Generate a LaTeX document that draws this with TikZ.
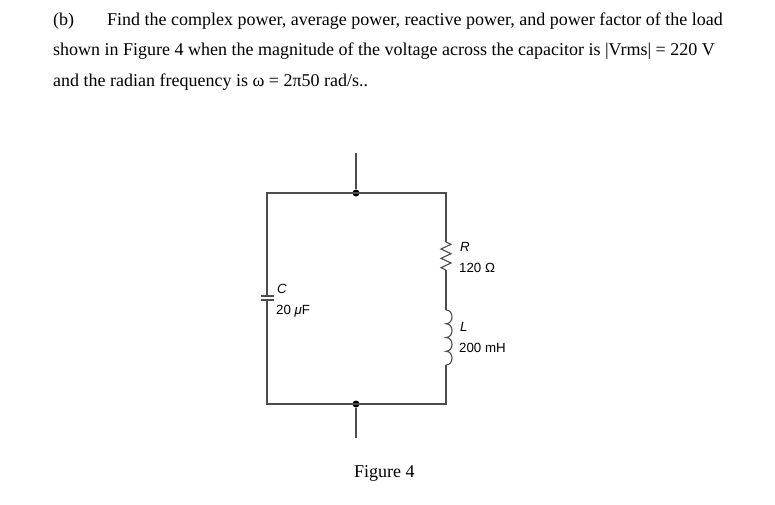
\documentclass[tikz,border=0pt]{standalone}
\usepackage{fontspec}
\setmainfont{Liberation Serif}
\newfontfamily\lblfont{Liberation Sans}
\begin{document}
\begin{tikzpicture}[x=1pt,y=-1pt,
  wire/.style={draw=black!70,line width=1.1pt},
  txt/.style={anchor=base west,inner sep=0pt,font=\fontsize{18}{21}\selectfont},
  lbl/.style={anchor=base west,inner sep=0pt,font=\lblfont\fontsize{13.3}{15}\selectfont},
  dot/.style={circle,fill=black,inner sep=0pt,minimum size=7pt}]
\useasboundingbox (0,0) rectangle (775,504);
\node[txt] (t0) at (53,25) {(b)};
\node[txt] (t1) at (107,25) {Find the complex power, average power, reactive power, and power factor of the load};
\node[txt] (t2) at (53,55) {shown in Figure 4 when the magnitude of the voltage across the capacitor is |Vrms| = 220 V};
\node[txt] (t3) at (53,86) {and the radian frequency is ω = 2π50 rad/s..};
\coordinate (tl) at (267,193); \coordinate (tr) at (446,193);
\coordinate (bl) at (267,404); \coordinate (br) at (446,404);
\node[dot] (nt) at (356,193) {}; \node[dot] (nb) at (356,404) {};
\coordinate (ttop) at (356,153); \coordinate (tbot) at (356,438);
\coordinate (c1) at (267,296); \coordinate (c2) at (267,300);
\coordinate (r1) at (446,242); \coordinate (r2) at (446,270);
\coordinate (l1) at (446,310); \coordinate (l2) at (446,365);
\draw[wire] (ttop) -- (nt); \draw[wire] (tbot) -- (nb);
\draw[wire] (c1) -- (tl) -- (tr) -- (r1);
\draw[wire] (r1) -- (451,244.33) -- (441,249) -- (451,253.67) -- (441,258.33) -- (451,263) -- (441,267.67) -- (r2);
\draw[wire] (r2) -- (l1);
\draw[wire] (l1) .. controls (454,310) and (454,323.75) .. (446,323.75)
  .. controls (454,323.75) and (454,337.5) .. (446,337.5)
  .. controls (454,337.5) and (454,351.25) .. (446,351.25)
  .. controls (454,351.25) and (454,365) .. (l2);
\draw[wire] (l2) -- (br) -- (bl) -- (c2);
\draw[wire] ([xshift=-6.5]c1) -- ([xshift=6.5]c1);
\draw[wire] ([xshift=-6.5]c2) -- ([xshift=6.5]c2);
\node[lbl] (lc) at (277,293) {\itshape C};
\node[lbl] (lcv) at (276,314) {20 \textit{μ}F};
\node[lbl] (lr) at (460,251) {\itshape R};
\node[lbl] (lrv) at (459,272) {120 Ω};
\node[lbl] (ll) at (460,331) {\itshape L};
\node[lbl] (llv) at (459,352) {200 mH};
\node[txt] (cap) at (354,477) {Figure 4};
\end{tikzpicture}
\end{document}
